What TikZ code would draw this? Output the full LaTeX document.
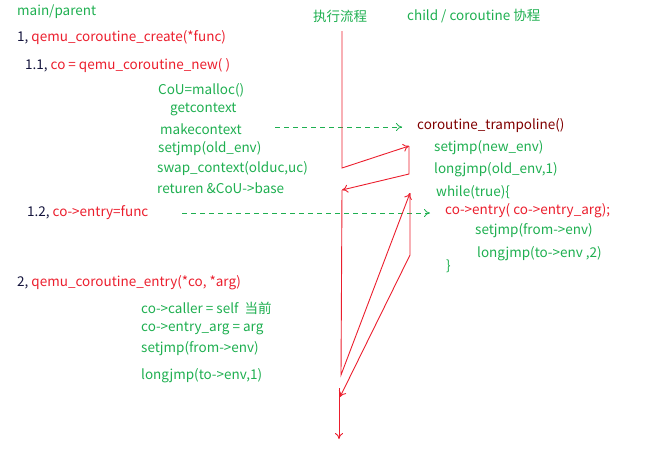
\documentclass[tikz,border=0pt]{standalone}
\usepackage{fontspec}
\setmainfont{Noto Sans CJK SC}
\usetikzlibrary{arrows.meta}
\definecolor{tg}{RGB}{30,175,80}
\definecolor{tr}{RGB}{235,30,45}
\definecolor{tdr}{RGB}{128,0,0}
\definecolor{tk}{RGB}{20,20,60}
\tikzset{
 t/.style={anchor=west,inner sep=0pt,font=\fontsize{13.5}{15}\selectfont},
 g/.style={t,text=tg},
 r/.style={t,text=tr},
 flow/.style={draw=tr,line width=0.9pt,-{To[length=6pt,width=8pt]}},
 dashlink/.style={draw=tg,line width=0.8pt,dash pattern=on 5pt off 4pt,-{To[length=6pt,width=8pt]}}
}
\begin{document}
\begin{tikzpicture}[x=1pt,y=-1pt]
\useasboundingbox (0,0) rectangle (672,451);
\node[g] (mp) at (17,12) {main/parent};
\node[t] (c1) at (17,38) {\textcolor{tk}{1,} \textcolor{tr}{qemu\_coroutine\_create(*func)}};
\node[t] (c11) at (25,66) {\textcolor{tk}{1.1,} \textcolor{tr}{co = qemu\_coroutine\_new( )}};
\node[g] (a1) at (158,90) {CoU=malloc()};
\node[g] (a2) at (170,109) {getcontext};
\node[g] (a3) at (160,129) {makecontext};
\node[g] (a4) at (158,149) {setjmp(old\_env)};
\node[g] (a5) at (157,169) {swap\_context(olduc,uc)};
\node[g] (a6) at (157,188) {returen \&CoU->base};
\node[g] (h1) at (313,16) {执行流程};
\node[g] (h2) at (407,16) {child / coroutine 协程};
\node[t,text=tdr] (tp) at (417,126) {coroutine\_trampoline()};
\node[g] (b1) at (434,148) {setjmp(new\_env)};
\node[g] (b2) at (434,170) {longjmp(old\_env,1)};
\node[g] (b3) at (436,192) {while(true)\{};
\node[r] (b4) at (445,211) {co->entry( co->entry\_arg);};
\node[g] (b5) at (475,231) {setjmp(from->env)};
\node[g] (b6) at (477,254) {longjmp(to->env ,2)};
\node[g] (b7) at (446,266) {\}};
\node[t] (c12) at (27,213) {\textcolor{tk}{1.2,} \textcolor{tr}{co->entry=func}};
\node[t] (c2) at (17,283) {\textcolor{tk}{2,} \textcolor{tr}{qemu\_coroutine\_entry(*co, *arg)}};
\node[g] (d1) at (141,308) {co->caller = self \ 当前};
\node[g] (d2) at (141,328) {co->entry\_arg = arg};
\node[g] (d3) at (141,349) {setjmp(from->env)};
\node[g] (d4) at (141,376) {longjmp(to->env,1)};
% dashed links
\coordinate (e1) at (275,127);
\coordinate (e2) at (402,127);
\coordinate (f1) at (182,213);
\coordinate (f2) at (430,213);
\draw[dashlink] (e1) -- (e2);
\draw[dashlink] (f1) -- (f2);
% execution flow
\coordinate (p0) at (342,31);
\coordinate (p1) at (342,168);
\coordinate (p2) at (409,146);
\coordinate (p3) at (409,174);
\coordinate (p4) at (342,190);
\coordinate (p5) at (341,375);
\coordinate (p6) at (410,193);
\coordinate (p7) at (410,255);
\coordinate (p8) at (340,397);
\coordinate (p9) at (339,388);
\coordinate (p10) at (339,439);
\draw[flow] (p0) -- (p1) -- (p2);
\draw[flow] (p2) -- (p3) -- (p4);
\draw[flow] (p4) -- (p5) -- (p6);
\draw[flow] (p6) -- (p7) -- (p8);
\draw[flow] (p9) -- (p10);
\end{tikzpicture}
\end{document}
